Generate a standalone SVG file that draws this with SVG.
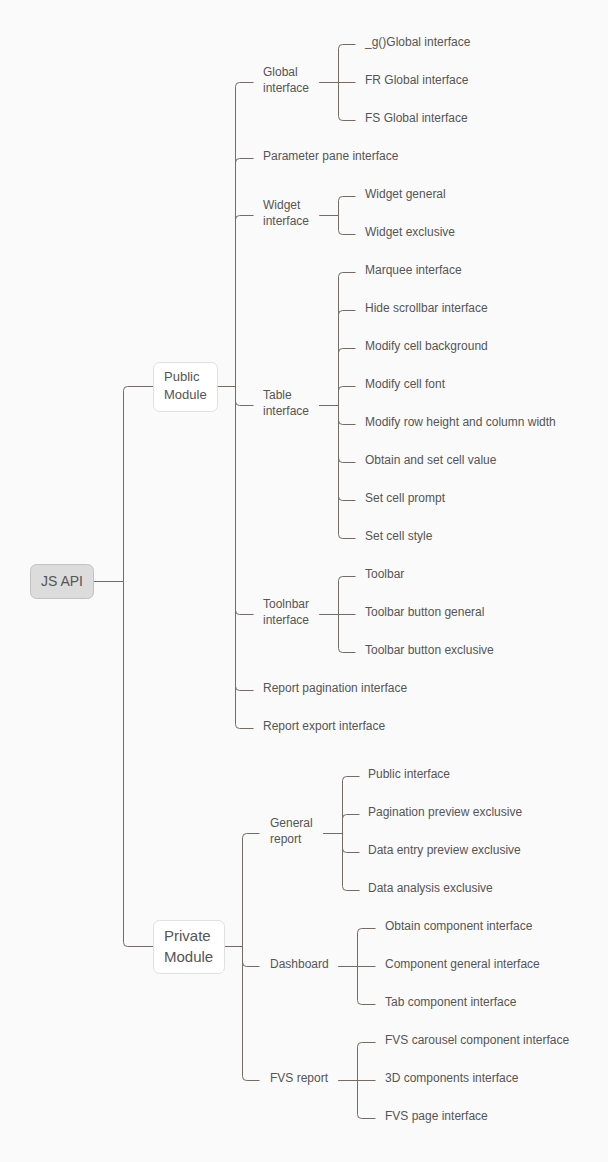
<svg xmlns="http://www.w3.org/2000/svg" width="608" height="1162" viewBox="0 0 608 1162">
<style>
  text { font-family: "Liberation Sans", Arial, sans-serif; fill: #555555; }
  .leaf { font-size: 12px; }
  .mid { font-size: 12px; }
  .c { fill: none; stroke: #736b66; stroke-width: 1; }
  .box { fill: #ffffff; stroke: #e0e0e0; stroke-width: 1; }
  .root { fill: #dcdcdc; stroke: #c2c2c2; stroke-width: 1; }
</style>
<rect x="0" y="0" width="608" height="1162" fill="#fafafa"/>
<g id="connectors" transform="translate(0.5,0.5)">
  <!-- root -->
  <path class="c" d="M93 581 H123 V390 Q123 386 127 386 H153"/>
  <path class="c" d="M93 581 H123 V942 Q123 946 127 946 H153"/>
  <!-- public module -->
  <path class="c" d="M217 386 H235 V86 Q235 82 239 82 H253"/>
  <path class="c" d="M217 386 H235 V162 Q235 158 239 158 H253"/>
  <path class="c" d="M217 386 H235 V219 Q235 215 239 215 H253"/>
  <path class="c" d="M217 386 H235 V401 Q235 405 239 405 H253"/>
  <path class="c" d="M217 386 H235 V610 Q235 614 239 614 H253"/>
  <path class="c" d="M217 386 H235 V686 Q235 690 239 690 H253"/>
  <path class="c" d="M217 386 H235 V724 Q235 728 239 728 H253"/>
  <!-- global -->
  <path class="c" d="M319 82 H338 V48 Q338 44 342 44 H355"/>
  <path class="c" d="M319 82 H355"/>
  <path class="c" d="M319 82 H338 V116 Q338 120 342 120 H355"/>
  <!-- widget -->
  <path class="c" d="M319 215 H338 V200 Q338 196 342 196 H355"/>
  <path class="c" d="M319 215 H338 V230 Q338 234 342 234 H355"/>
  <!-- table -->
  <path class="c" d="M319 405 H338 V276 Q338 272 342 272 H355"/>
  <path class="c" d="M319 405 H338 V314 Q338 310 342 310 H355"/>
  <path class="c" d="M319 405 H338 V352 Q338 348 342 348 H355"/>
  <path class="c" d="M319 405 H338 V390 Q338 386 342 386 H355"/>
  <path class="c" d="M319 405 H338 V420 Q338 424 342 424 H355"/>
  <path class="c" d="M319 405 H338 V458 Q338 462 342 462 H355"/>
  <path class="c" d="M319 405 H338 V496 Q338 500 342 500 H355"/>
  <path class="c" d="M319 405 H338 V534 Q338 538 342 538 H355"/>
  <!-- toolbar -->
  <path class="c" d="M319 614 H338 V580 Q338 576 342 576 H355"/>
  <path class="c" d="M319 614 H355"/>
  <path class="c" d="M319 614 H338 V648 Q338 652 342 652 H355"/>
  <!-- private module -->
  <path class="c" d="M224 946 H242 V837 Q242 833 246 833 H259"/>
  <path class="c" d="M224 946 H242 V962 Q242 966 246 966 H259"/>
  <path class="c" d="M224 946 H242 V1076 Q242 1080 246 1080 H259"/>
  <!-- general report -->
  <path class="c" d="M323 833 H342 V780 Q342 776 346 776 H359"/>
  <path class="c" d="M323 833 H342 V818 Q342 814 346 814 H359"/>
  <path class="c" d="M323 833 H342 V848 Q342 852 346 852 H359"/>
  <path class="c" d="M323 833 H342 V886 Q342 890 346 890 H359"/>
  <!-- dashboard -->
  <path class="c" d="M338 966 H357 V932 Q357 928 361 928 H375"/>
  <path class="c" d="M338 966 H375"/>
  <path class="c" d="M338 966 H357 V1000 Q357 1004 361 1004 H375"/>
  <!-- fvs report -->
  <path class="c" d="M338 1080 H357 V1046 Q357 1042 361 1042 H375"/>
  <path class="c" d="M338 1080 H375"/>
  <path class="c" d="M338 1080 H357 V1114 Q357 1118 361 1118 H375"/>
</g>
<g id="node-root">
  <rect class="root" x="30.5" y="564.5" width="63" height="34" rx="6"/>
  <text x="62" y="586" font-size="14" text-anchor="middle">JS API</text>
</g>
<g id="node-public-module">
  <rect class="box" x="153.5" y="362.5" width="64" height="49" rx="6"/>
  <text x="164" y="381" font-size="13">Public</text>
  <text x="164" y="399" font-size="13">Module</text>
</g>
<g id="node-private-module">
  <rect class="box" x="153.5" y="920.5" width="71" height="53" rx="6"/>
  <text x="164" y="941" font-size="15">Private</text>
  <text x="164" y="962" font-size="15">Module</text>
</g>
<g id="node-global" class="mid"><text x="263" y="76">Global</text><text x="263" y="92">interface</text></g>
<g id="node-parameter"><text class="leaf" x="263" y="160">Parameter pane interface</text></g>
<g id="node-widget" class="mid"><text x="263" y="209">Widget</text><text x="263" y="225">interface</text></g>
<g id="node-table" class="mid"><text x="263" y="399">Table</text><text x="263" y="415">interface</text></g>
<g id="node-toolbar" class="mid"><text x="263" y="608">Toolnbar</text><text x="263" y="624">interface</text></g>
<g id="node-report-pagination"><text class="leaf" x="263" y="692">Report pagination interface</text></g>
<g id="node-report-export"><text class="leaf" x="263" y="730">Report export interface</text></g>
<g id="node-g-global"><text class="leaf" x="365" y="46">_g()Global interface</text></g>
<g id="node-fr-global"><text class="leaf" x="365" y="84">FR Global interface</text></g>
<g id="node-fs-global"><text class="leaf" x="365" y="122">FS Global interface</text></g>
<g id="node-widget-general"><text class="leaf" x="365" y="198">Widget general</text></g>
<g id="node-widget-exclusive"><text class="leaf" x="365" y="236">Widget exclusive</text></g>
<g id="node-marquee"><text class="leaf" x="365" y="274">Marquee interface</text></g>
<g id="node-hide-scrollbar"><text class="leaf" x="365" y="312">Hide scrollbar interface</text></g>
<g id="node-cell-bg"><text class="leaf" x="365" y="350">Modify cell background</text></g>
<g id="node-cell-font"><text class="leaf" x="365" y="388">Modify cell font</text></g>
<g id="node-row-height"><text class="leaf" x="365" y="426">Modify row height and column width</text></g>
<g id="node-cell-value"><text class="leaf" x="365" y="464">Obtain and set cell value</text></g>
<g id="node-cell-prompt"><text class="leaf" x="365" y="502">Set cell prompt</text></g>
<g id="node-cell-style"><text class="leaf" x="365" y="540">Set cell style</text></g>
<g id="node-toolbar-leaf"><text class="leaf" x="365" y="578">Toolbar</text></g>
<g id="node-toolbar-general"><text class="leaf" x="365" y="616">Toolbar button general</text></g>
<g id="node-toolbar-exclusive"><text class="leaf" x="365" y="654">Toolbar button exclusive</text></g>
<g id="node-general-report" class="mid"><text x="270" y="827">General</text><text x="270" y="843">report</text></g>
<g id="node-dashboard"><text class="mid" x="270" y="968">Dashboard</text></g>
<g id="node-fvs-report"><text class="mid" x="270" y="1082">FVS report</text></g>
<g id="node-public-interface"><text class="leaf" x="368" y="778">Public interface</text></g>
<g id="node-pagination-preview"><text class="leaf" x="368" y="816">Pagination preview exclusive</text></g>
<g id="node-data-entry"><text class="leaf" x="368" y="854">Data entry preview exclusive</text></g>
<g id="node-data-analysis"><text class="leaf" x="368" y="892">Data analysis exclusive</text></g>
<g id="node-obtain-component"><text class="leaf" x="385" y="930">Obtain component interface</text></g>
<g id="node-component-general"><text class="leaf" x="385" y="968">Component general interface</text></g>
<g id="node-tab-component"><text class="leaf" x="385" y="1006">Tab component interface</text></g>
<g id="node-fvs-carousel"><text class="leaf" x="385" y="1044">FVS carousel component interface</text></g>
<g id="node-3d-components"><text class="leaf" x="385" y="1082">3D components interface</text></g>
<g id="node-fvs-page"><text class="leaf" x="385" y="1120">FVS page interface</text></g>
</svg>
